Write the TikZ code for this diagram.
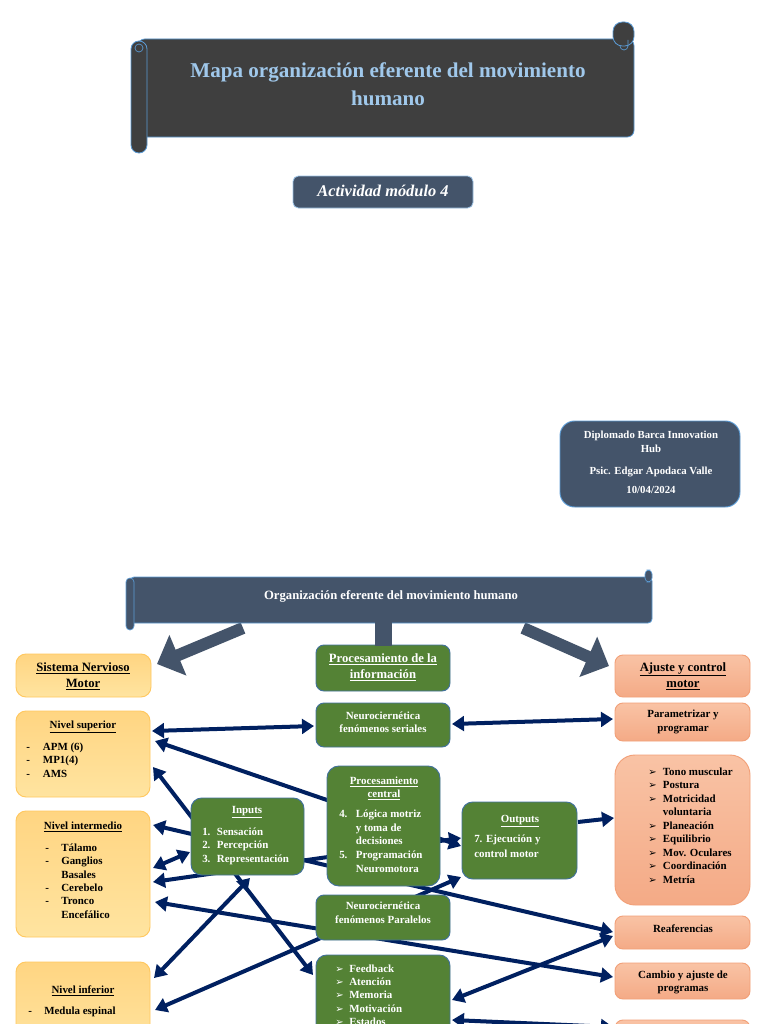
\documentclass[tikz,border=0pt]{standalone}
\usepackage{fontspec}
\setmainfont{Liberation Serif}
\newfontfamily\arrowfnt{DejaVu Sans}
\usetikzlibrary{arrows.meta,calc}
\pgfdeclarelayer{bg}
\pgfdeclarelayer{conn}
\pgfsetlayers{bg,conn,main}
\definecolor{navy}{RGB}{0,32,96}
\definecolor{slate}{RGB}{68,84,106}
\definecolor{dgray}{RGB}{63,63,63}
\definecolor{sblue}{RGB}{91,155,213}
\definecolor{tblue}{RGB}{160,200,235}
\definecolor{ggreen}{RGB}{84,130,53}
\definecolor{gborder}{RGB}{65,113,156}
\definecolor{ytop}{RGB}{255,213,130}
\definecolor{ybot}{RGB}{255,228,160}
\definecolor{yline}{RGB}{255,200,95}
\definecolor{stop}{RGB}{249,195,165}
\definecolor{sbot}{RGB}{244,170,134}
\definecolor{sline}{RGB}{242,160,120}
\newcounter{tn}
\newcommand\TL[4][]{\stepcounter{tn}\node[tx,anchor=base,#1] (t\arabic{tn}) at (#2,#3) {#4};}
\newcommand\LI[6][]{\stepcounter{tn}\node[tx,anchor=base west,#1] (t\arabic{tn}) at (#2,#3) {\makebox[#5pt][l]{#4}#6};}
\newcommand\myb{{\arrowfnt\fontsize{7.5}{8}\selectfont ➢}}
\tikzset{
  box/.style={anchor=north west, inner sep=0pt, outer sep=0pt},
  ybox/.style={box, draw=yline, line width=0.7pt, rounded corners=7.5pt, top color=ytop, bottom color=ybot},
  gbox/.style={box, draw=gborder, line width=0.7pt, fill=ggreen, rounded corners=6pt},
  sbox/.style={box, draw=sline, line width=0.7pt, rounded corners=6pt, top color=stop, bottom color=sbot},
  navline/.style={draw=navy, line width=3pt},
  dbl/.style={navline, {Triangle[length=9pt,width=11pt]}-{Triangle[length=9pt,width=11pt]}},
  sgl/.style={navline, -{Triangle[length=9pt,width=11pt]}},
  blockarr/.style={draw=slate, line width=9pt, -{Triangle[length=17pt,width=32pt]}},
  tx/.style={inner sep=0pt, text=black, font=\bfseries\fontsize{8.2}{10}\selectfont},
  hx/.style={font=\bfseries\fontsize{9.5}{11}\selectfont},
  wt/.style={text=white}
}
\begin{document}
\begin{tikzpicture}[x=0.75pt,y=-0.75pt]
\useasboundingbox (0,0) rectangle (768,1024);
\begin{pgfonlayer}{bg}
\fill[white] (0,0) rectangle (768,1024);
\end{pgfonlayer}

% ---- title scroll
\node[box, minimum width=372pt, minimum height=73.5pt, fill=dgray, draw=sblue, line width=0.6pt, rounded corners=5pt] (titlebody) at (138,39) {};
\filldraw[fill=dgray, draw=sblue, line width=0.6pt, rounded corners=7pt] (613,22) rectangle (634,46);
\draw[sblue, line width=0.5pt] (620,46) arc (180:0:4) -- (628,40);
\filldraw[fill=dgray, draw=sblue, line width=0.6pt, rounded corners=6pt] (131,41) rectangle (147,153);
\draw[sblue, line width=0.5pt] (139,48) circle (4);
\TL[text=tblue, font=\bfseries\fontsize{15.8}{18}\selectfont]{388}{78}{Mapa organización eferente del movimiento}
\TL[text=tblue, font=\bfseries\fontsize{15.8}{18}\selectfont]{388}{105}{humano}

% ---- actividad
\node[box, minimum width=135pt, minimum height=24pt, fill=slate, draw=sblue!60, line width=0.6pt, rounded corners=4pt] (act) at (293,176) {};
\TL[wt, font=\bfseries\itshape\fontsize{12.3}{14}\selectfont]{383}{196}{Actividad módulo 4}

% ---- diplomado
\node[box, minimum width=135pt, minimum height=64.5pt, fill=slate, draw=sblue, line width=0.7pt, rounded corners=11pt] (dipl) at (560,421) {};
\TL[wt, font=\bfseries\fontsize{8.1}{10}\selectfont]{651}{438}{Diplomado Barca Innovation}
\TL[wt, font=\bfseries\fontsize{8.1}{10}\selectfont]{651}{452}{Hub}
\TL[wt, font=\bfseries\fontsize{8.1}{10}\selectfont]{651}{474}{Psic. Edgar Apodaca Valle}
\TL[wt, font=\bfseries\fontsize{8.1}{10}\selectfont]{651}{493}{10/04/2024}

% ---- boxes
\node[ybox, minimum width=101.25pt, minimum height=32.25pt] (snm) at (16,654) {};
\node[ybox, minimum width=100.5pt, minimum height=64.5pt] (sup) at (16,711) {};
\node[ybox, minimum width=100.5pt, minimum height=94.5pt] (inter) at (16,811) {};
\node[ybox, minimum width=100.5pt, minimum height=67.5pt] (infer) at (16,962) {};

\node[gbox, minimum width=100.5pt, minimum height=34.5pt] (info) at (316,645) {};
\node[gbox, minimum width=100.5pt, minimum height=33pt] (seri) at (316,703) {};
\node[gbox, minimum width=84.75pt, minimum height=90pt, rounded corners=9pt] (pcent) at (327,766) {};
\node[gbox, minimum width=84.75pt, minimum height=57.75pt, rounded corners=8pt] (inputs) at (191,798) {};
\node[gbox, minimum width=86.25pt, minimum height=57.75pt, rounded corners=8pt] (outputs) at (462,802) {};
\node[gbox, minimum width=100.5pt, minimum height=33.75pt] (para) at (316,895) {};
\node[gbox, minimum width=100.5pt, minimum height=67.5pt, rounded corners=8pt] (feed) at (316,955) {};

\node[sbox, minimum width=101.25pt, minimum height=31.5pt] (ajuste) at (615,655) {};
\node[sbox, minimum width=101.25pt, minimum height=28.5pt] (param) at (615,703) {};
\node[sbox, minimum width=101.25pt, minimum height=112.5pt, rounded corners=15pt] (lista) at (615,755) {};
\node[sbox, minimum width=101.25pt, minimum height=24.75pt] (reaf) at (615,916) {};
\node[sbox, minimum width=101.25pt, minimum height=27pt] (cambio) at (615,963) {};
\node[sbox, minimum width=101.25pt, minimum height=22.5pt] (last) at (615,1020) {};

% ---- block arrows and banner
\draw[blockarr] (243,628) coordinate (bl0) -- ([shift={(141,10)}]snm.north west);
\draw[blockarr] (523,628) coordinate (br0) -- ([shift={(-6,11)}]ajuste.north west);
\node[box, minimum width=391.5pt, minimum height=34.5pt, fill=slate, draw=sblue, line width=0.6pt, rounded corners=3pt] (banner) at (130,577) {};
\fill[slate] ([shift={(245,40)}]banner.north west) rectangle ([shift={(76,1)}]info.north west);
\filldraw[fill=slate, draw=sblue, line width=0.5pt, rounded corners=3pt] (126,578) rectangle (134,630);
\filldraw[fill=slate, draw=sblue, line width=0.5pt, rounded corners=3pt] (645,570) rectangle (652,582);
\TL[wt, hx]{391}{599}{Organización eferente del movimiento humano}

% ---- connectors
\begin{pgfonlayer}{conn}
\draw[dbl] ([shift={(136,20)}]sup.north west) -- ([shift={(-2,23)}]seri.north west);
\draw[dbl] ([shift={(139,30)}]sup.north west) -- ([shift={(-1,44)}]outputs.north west);
\draw[dbl] ([shift={(137,56)}]sup.north west) -- ([shift={(-3,20)}]feed.north west);
\draw[dbl] ([shift={(137,14)}]inter.north west) -- ([shift={(-2,16)}]reaf.north west);
\draw[dbl] ([shift={(137,57)}]inter.north west) -- ([shift={(-1,54)}]inputs.north west);
\draw[dbl] ([shift={(137,71)}]inter.north west) -- ([shift={(-1,36)}]outputs.north west);
\draw[dbl] ([shift={(139,91)}]inter.north west) -- ([shift={(-2,14)}]cambio.north west);
\draw[dbl] ([shift={(59,80)}]inputs.north west) -- ([shift={(138,16)}]infer.north west);
\draw[dbl] ([shift={(139,48)}]infer.north west) -- ([shift={(-1,75)}]outputs.north west);
\draw[dbl] ([shift={(136,21)}]seri.north west) -- ([shift={(-2,16)}]param.north west);
\draw[sgl] ([shift={(116,20)}]outputs.north west) -- ([shift={(-1,63)}]lista.north west);
\draw[dbl] ([shift={(-2,20)}]reaf.north west) -- ([shift={(136,45)}]feed.north west);
\draw[dbl] ([shift={(136,65)}]feed.north west) -- ([shift={(-2,7)}]last.north west);
\end{pgfonlayer}

% ---- left column text
\TL[hx]{83}{671}{\underline{Sistema Nervioso}}
\TL[hx]{83}{687}{\underline{Motor}}
\TL{83}{728}{\underline{Nivel superior}}
\LI{26}{750}{-}{12.5}{APM (6)}
\LI{26}{763}{-}{12.5}{MP1(4)}
\LI{26}{777}{-}{12.5}{AMS}
\TL{83}{829}{\underline{Nivel intermedio}}
\LI{45}{851}{-}{12}{Tálamo}
\LI{45}{864}{-}{12}{Ganglios}
\LI{45}{878}{}{12}{Basales}
\LI{45}{891}{-}{12}{Cerebelo}
\LI{45}{904}{-}{12}{Tronco}
\LI{45}{918}{}{12}{Encefálico}
\TL{83}{993}{\underline{Nivel inferior}}
\LI{28}{1014}{-}{12}{Medula espinal}

% ---- green text
\TL[wt, hx]{383}{662}{\underline{Procesamiento de la}}
\TL[wt, hx]{383}{678}{\underline{información}}
\TL[wt]{383}{719}{Neurociernética}
\TL[wt]{383}{732}{fenómenos seriales}
\TL[wt]{384}{784}{\underline{Procesamiento}}
\TL[wt]{384}{797}{\underline{central}}
\LI[wt]{339}{817}{4.}{12.5}{Lógica motriz}
\LI[wt]{339}{831}{}{12.5}{y toma de}
\LI[wt]{339}{844}{}{12.5}{decisiones}
\LI[wt]{339}{858}{5.}{12.5}{Programación}
\LI[wt]{339}{872}{}{12.5}{Neuromotora}
\TL[wt]{247}{813}{\underline{Inputs}}
\LI[wt]{202}{835}{1.}{11}{Sensación}
\LI[wt]{202}{848}{2.}{11}{Percepción}
\LI[wt]{202}{862}{3.}{11}{Representación}
\TL[wt]{520}{822}{\underline{Outputs}}
\LI[wt]{474}{842}{}{0}{7. Ejecución y}
\LI[wt]{474}{857}{}{0}{control motor}
\TL[wt]{383}{909}{Neurociernética}
\TL[wt]{383}{923}{fenómenos Paralelos}
\LI[wt]{335}{972}{\myb}{10.5}{Feedback}
\LI[wt]{335}{985}{\myb}{10.5}{Atención}
\LI[wt]{335}{998}{\myb}{10.5}{Memoria}
\LI[wt]{335}{1012}{\myb}{10.5}{Motivación}
\LI[wt]{335}{1025}{\myb}{10.5}{Estados}

% ---- right column text
\TL[hx]{683}{671}{\underline{Ajuste y control}}
\TL[hx]{683}{687}{\underline{motor}}
\TL{683}{717}{Parametrizar y}
\TL{683}{731}{programar}
\LI{648}{775}{\myb}{11}{Tono muscular}
\LI{648}{788}{\myb}{11}{Postura}
\LI{648}{802}{\myb}{11}{Motricidad}
\LI{648}{815}{}{11}{voluntaria}
\LI{648}{829}{\myb}{11}{Planeación}
\LI{648}{842}{\myb}{11}{Equilibrio}
\LI{648}{856}{\myb}{11}{Mov. Oculares}
\LI{648}{869}{\myb}{11}{Coordinación}
\LI{648}{883}{\myb}{11}{Metría}
\TL{683}{932}{Reaferencias}
\TL{683}{978}{Cambio y ajuste de}
\TL{683}{991}{programas}
\end{tikzpicture}
\end{document}
